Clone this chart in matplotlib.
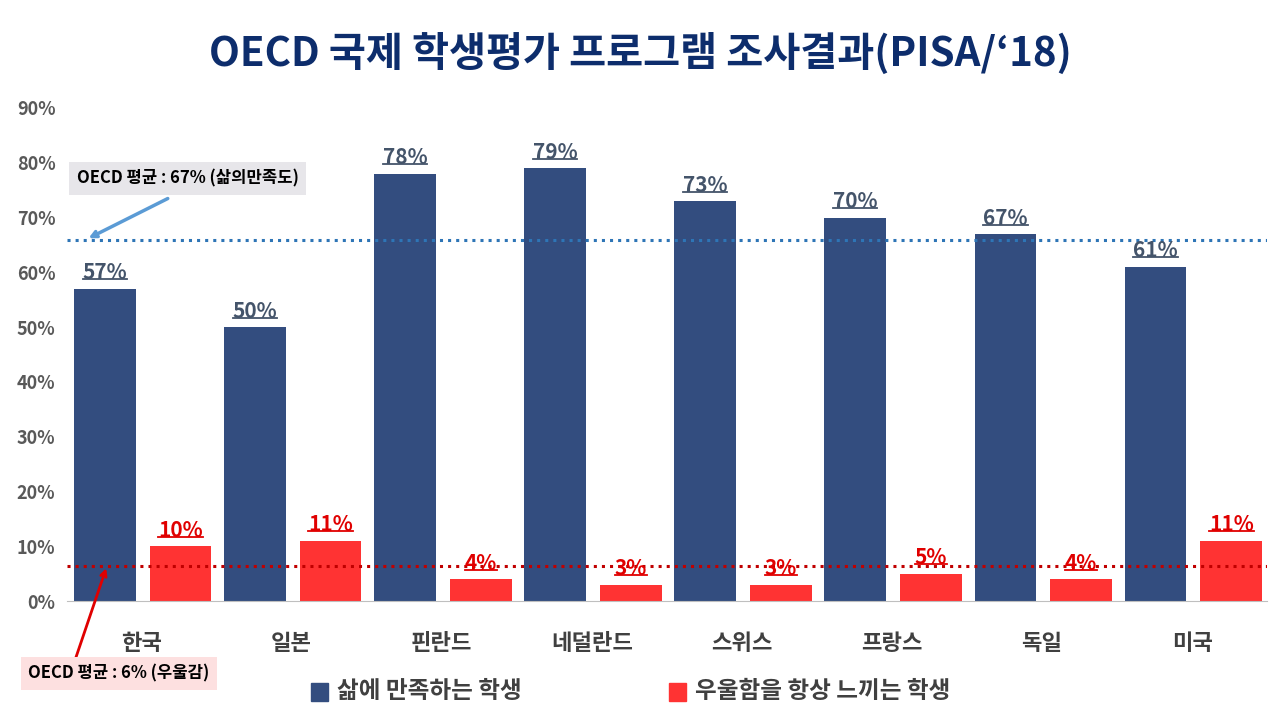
import matplotlib
matplotlib.use("Agg")
import matplotlib.pyplot as plt
import numpy as np

FAM = ["Noto Sans CJK KR", "Noto Sans CJK JP", "Noto Sans CJK SC", "DejaVu Sans"]
plt.rcParams["font.family"] = FAM
plt.rcParams["font.weight"] = "bold"

categories = ["한국", "일본", "핀란드", "네덜란드", "스위스", "프랑스", "독일", "미국"]
satisfied = [57, 50, 78, 79, 73, 70, 67, 61]
depressed = [10, 11, 4, 3, 3, 5, 4, 11]
oecd_sat = 66
oecd_dep = 6.5
yticks = [0, 10, 20, 30, 40, 50, 60, 70, 80, 90]

BLUE = "#334d7f"
RED = "#ff3333"

fig = plt.figure(figsize=(12.8, 7.2), dpi=100)
ax = fig.add_axes([0.052, 0.165, 0.938, 0.685])
x = np.arange(len(categories))
w = 0.41
ax.bar(x - 0.245, satisfied, w, color=BLUE, zorder=2)
ax.bar(x + 0.26, depressed, w, color=RED, zorder=2)
ax.set_xlim(-0.5, len(categories) - 0.5)
ax.set_ylim(0, 90)
ax.set_yticks(yticks)
ax.set_yticklabels([f"{t}%" for t in yticks], fontsize=13, color="#595959", fontweight="bold")
ax.set_xticks(x)
ax.set_xticklabels(categories, fontsize=16, color="#404040", fontweight="bold")
ax.tick_params(length=0, pad=22, axis="x")
ax.tick_params(length=0, pad=8, axis="y")
for s in ["top", "right", "left"]:
    ax.spines[s].set_visible(False)
ax.spines["bottom"].set_color("#bfbfbf")

ax.axhline(oecd_sat, color="#2e75b6", ls=":", lw=2.2, zorder=3)
ax.axhline(oecd_dep, color="#c00000", ls=":", lw=2.2, zorder=3)

texts = []
for xi, v in zip(x, satisfied):
    texts.append((ax.text(xi - 0.245, v + 1.0, f"{v}%", ha="center", va="bottom", fontsize=15, color="#44546a", fontweight="bold"), "#44546a"))
for xi, v in zip(x, depressed):
    texts.append((ax.text(xi + 0.26, v + 1.0, f"{v}%", ha="center", va="bottom", fontsize=15, color="#e00000", fontweight="bold"), "#e00000"))

t1 = fig.text(0.06, 0.745, "OECD 평균 : 67% (삶의만족도)", fontsize=12, fontweight="bold", color="black",
              bbox=dict(boxstyle="square,pad=0.45", fc="#e7e6ea", ec="none"))
t2 = fig.text(0.022, 0.058, "OECD 평균 : 6% (우울감)", fontsize=12, fontweight="bold", color="black",
              bbox=dict(boxstyle="square,pad=0.45", fc="#fde0e0", ec="none"))
texts.append((t1, "black"))
texts.append((t2, "black"))

ax.annotate("", xy=(-0.37, oecd_sat), xycoords="data", xytext=(0.133, 0.726), textcoords="figure fraction",
            arrowprops=dict(arrowstyle="->", color="#5b9bd5", lw=2.5))
ax.annotate("", xy=(-0.23, oecd_dep), xycoords="data", xytext=(0.058, 0.08), textcoords="figure fraction",
            arrowprops=dict(arrowstyle="->", color="#e00000", lw=2))

fig.text(0.5, 0.925, "OECD 국제 학생평가 프로그램 조사결과(PISA/‘18)", ha="center", va="center",
         fontsize=29, fontweight="bold", color="#0d2d6c")

fig.patches.append(plt.Rectangle((0.243, 0.027), 0.013, 0.024, transform=fig.transFigure, color=BLUE))
fig.text(0.263, 0.04, "삶에 만족하는 학생", fontsize=17, fontweight="bold", color="#404040", va="center")
fig.patches.append(plt.Rectangle((0.523, 0.027), 0.013, 0.024, transform=fig.transFigure, color=RED))
fig.text(0.543, 0.04, "우울함을 항상 느끼는 학생", fontsize=17, fontweight="bold", color="#404040", va="center")

fig.canvas.draw()
r = fig.canvas.get_renderer()
inv = fig.transFigure.inverted()
for t, c in texts:
    bb = t.get_window_extent(r)
    (x0, y0), (x1, _) = inv.transform([(bb.x0, bb.y0 + 4), (bb.x1, bb.y0)])
    fig.add_artist(plt.Line2D([x0, x1], [y0, y0], transform=fig.transFigure, color=c, lw=1.3))

fig.savefig("out.png", dpi=100)
